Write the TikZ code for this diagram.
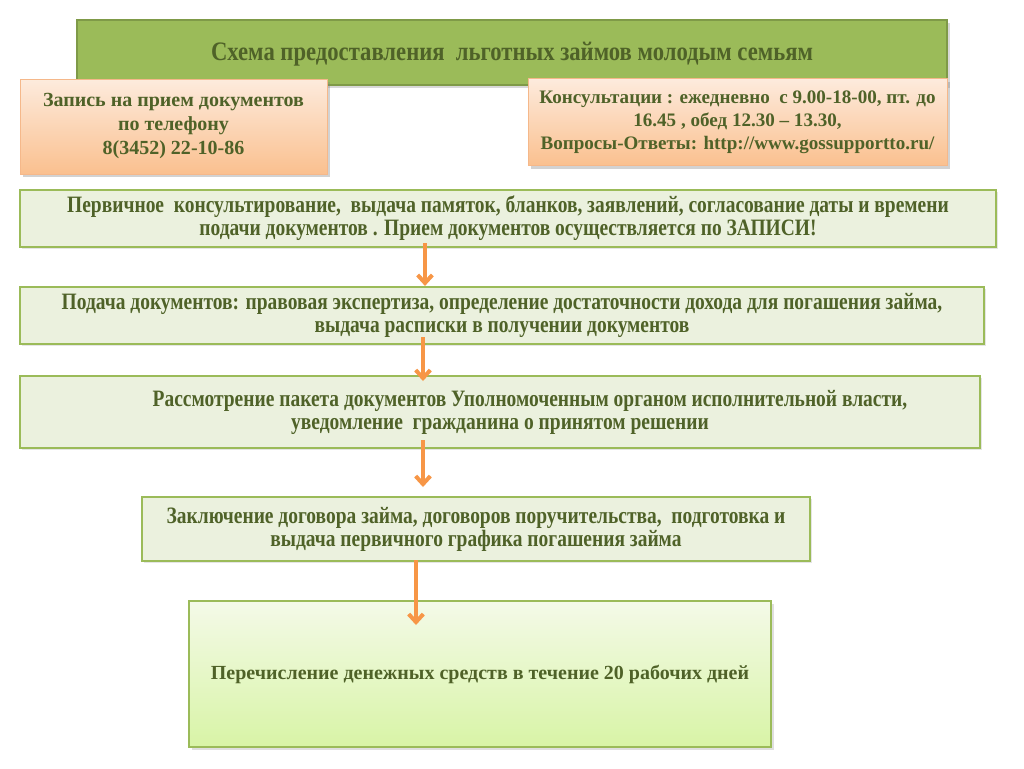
\documentclass[tikz,border=0pt]{standalone}
\usepackage{fontspec}
\setmainfont{Liberation Serif}
\newfontfamily\narrowfont[FakeStretch=0.85]{Liberation Serif}
\newfontfamily\stepfont[FakeStretch=0.83]{Liberation Serif}
\usepackage{tikz}
\usetikzlibrary{arrows.meta,shadows}
\definecolor{textgreen}{HTML}{4F6228}
\definecolor{headfill}{HTML}{9BBB59}
\definecolor{headdraw}{HTML}{7F9A48}
\definecolor{peachtop}{HTML}{FDEBDD}
\definecolor{peachbot}{HTML}{FAC08F}
\definecolor{peachdraw}{HTML}{F5B88A}
\definecolor{stepfill}{HTML}{EBF1DE}
\definecolor{stepdraw}{HTML}{9BBB59}
\definecolor{limetop}{HTML}{F4FAE8}
\definecolor{limebot}{HTML}{D8F4A6}
\definecolor{arrowc}{HTML}{F79646}
\tikzstyle{headbox}=[draw=headdraw,fill=headfill,line width=1.5pt,drop shadow={opacity=0.3,shadow xshift=2pt,shadow yshift=-2pt},text=textgreen,text height=13pt,text depth=1pt,font=\narrowfont\bfseries\fontsize{20}{22}\selectfont]
\tikzstyle{infobox}=[draw=peachdraw,top color=peachtop,bottom color=peachbot,line width=0.6pt,drop shadow={opacity=0.35,shadow xshift=2pt,shadow yshift=-2.5pt},text=textgreen,align=center,font=\bfseries\fontsize{15}{18}\selectfont]
\tikzstyle{stepbox}=[draw=stepdraw,fill=stepfill,line width=1.6pt,drop shadow={opacity=0.2,shadow xshift=1.5pt,shadow yshift=-1.5pt},text=textgreen,align=center,font=\stepfont\bfseries\fontsize{17.6}{17.2}\selectfont]
\tikzstyle{lastbox}=[draw=stepdraw,top color=limetop,bottom color=limebot,line width=2pt,drop shadow={opacity=0.25,shadow xshift=2pt,shadow yshift=-2pt},text=textgreen,align=center,font=\bfseries\fontsize{15}{17}\selectfont]
\tikzstyle{flow}=[draw=arrowc,line width=3pt,-{Straight Barb[length=6pt,width=11pt,line width=3pt]}]

\begin{document}
\begin{tikzpicture}[x=0.75pt,y=-0.75pt]
\useasboundingbox[fill=white] (0,0) rectangle (1024,768);
% top part
\node[headbox,minimum width=652.5pt,minimum height=48.75pt] (head) at (512,52.5) {Схема предоставления \ льготных займов молодым семьям};
\node[infobox,minimum width=230.25pt,minimum height=71.25pt] (phone) at (173.5,126.5) {Запись на прием документов\\по телефону\\8(3452) 22-10-86};
\node[infobox,minimum width=314.25pt,minimum height=65.25pt,font=\bfseries\fontsize{14.3}{17.25}\selectfont] (consult) at (737.5,122) {Консультации : ежедневно \ с 9.00-18-00, пт. до\\16.45 , обед 12.30 -- 13.30,\\Вопросы-Ответы: http://www.gossupportto.ru/};
% steps
\node[stepbox,minimum width=732pt,minimum height=42.75pt] (b1) at (508,218.5) {Первичное \ консультирование, \ выдача памяток, бланков, заявлений, согласование даты и времени\\подачи документов . Прием документов осуществляется по ЗАПИСИ!};
\node[stepbox,minimum width=723pt,minimum height=42.75pt] (b2) at (502,315.5) {Подача документов: правовая экспертиза, определение достаточности дохода для погашения займа,\\выдача расписки в получении документов};
\node[stepbox,minimum width=720pt,minimum height=54pt] (b3) at (500,412) {\hspace*{45pt}Рассмотрение пакета документов Уполномоченным органом исполнительной власти,\\уведомление \ гражданина о принятом решении};
\node[stepbox,minimum width=501pt,minimum height=48pt] (b4) at (476,529) {Заключение договора займа, договоров поручительства, \ подготовка и\\выдача первичного графика погашения займа};
\node[lastbox,minimum width=436.5pt,minimum height=109.5pt] (b5) at (480,674) {Перечисление денежных средств в течение 20 рабочих дней};
% arrows
\coordinate (s1) at (425,243);
\coordinate (s2) at (423,337);
\coordinate (e2) at (423,381);
\coordinate (s3) at (423,440);
\coordinate (e3) at (423,487);
\coordinate (s4) at (416,560);
\coordinate (e4) at (416,625);
\draw[flow] (s1) -- (s1 |- b2.north);
\draw[flow] (s2) -- (e2);
\draw[flow] (s3) -- (e3);
\draw[flow] (s4) -- (e4);
\end{tikzpicture}
\end{document}
